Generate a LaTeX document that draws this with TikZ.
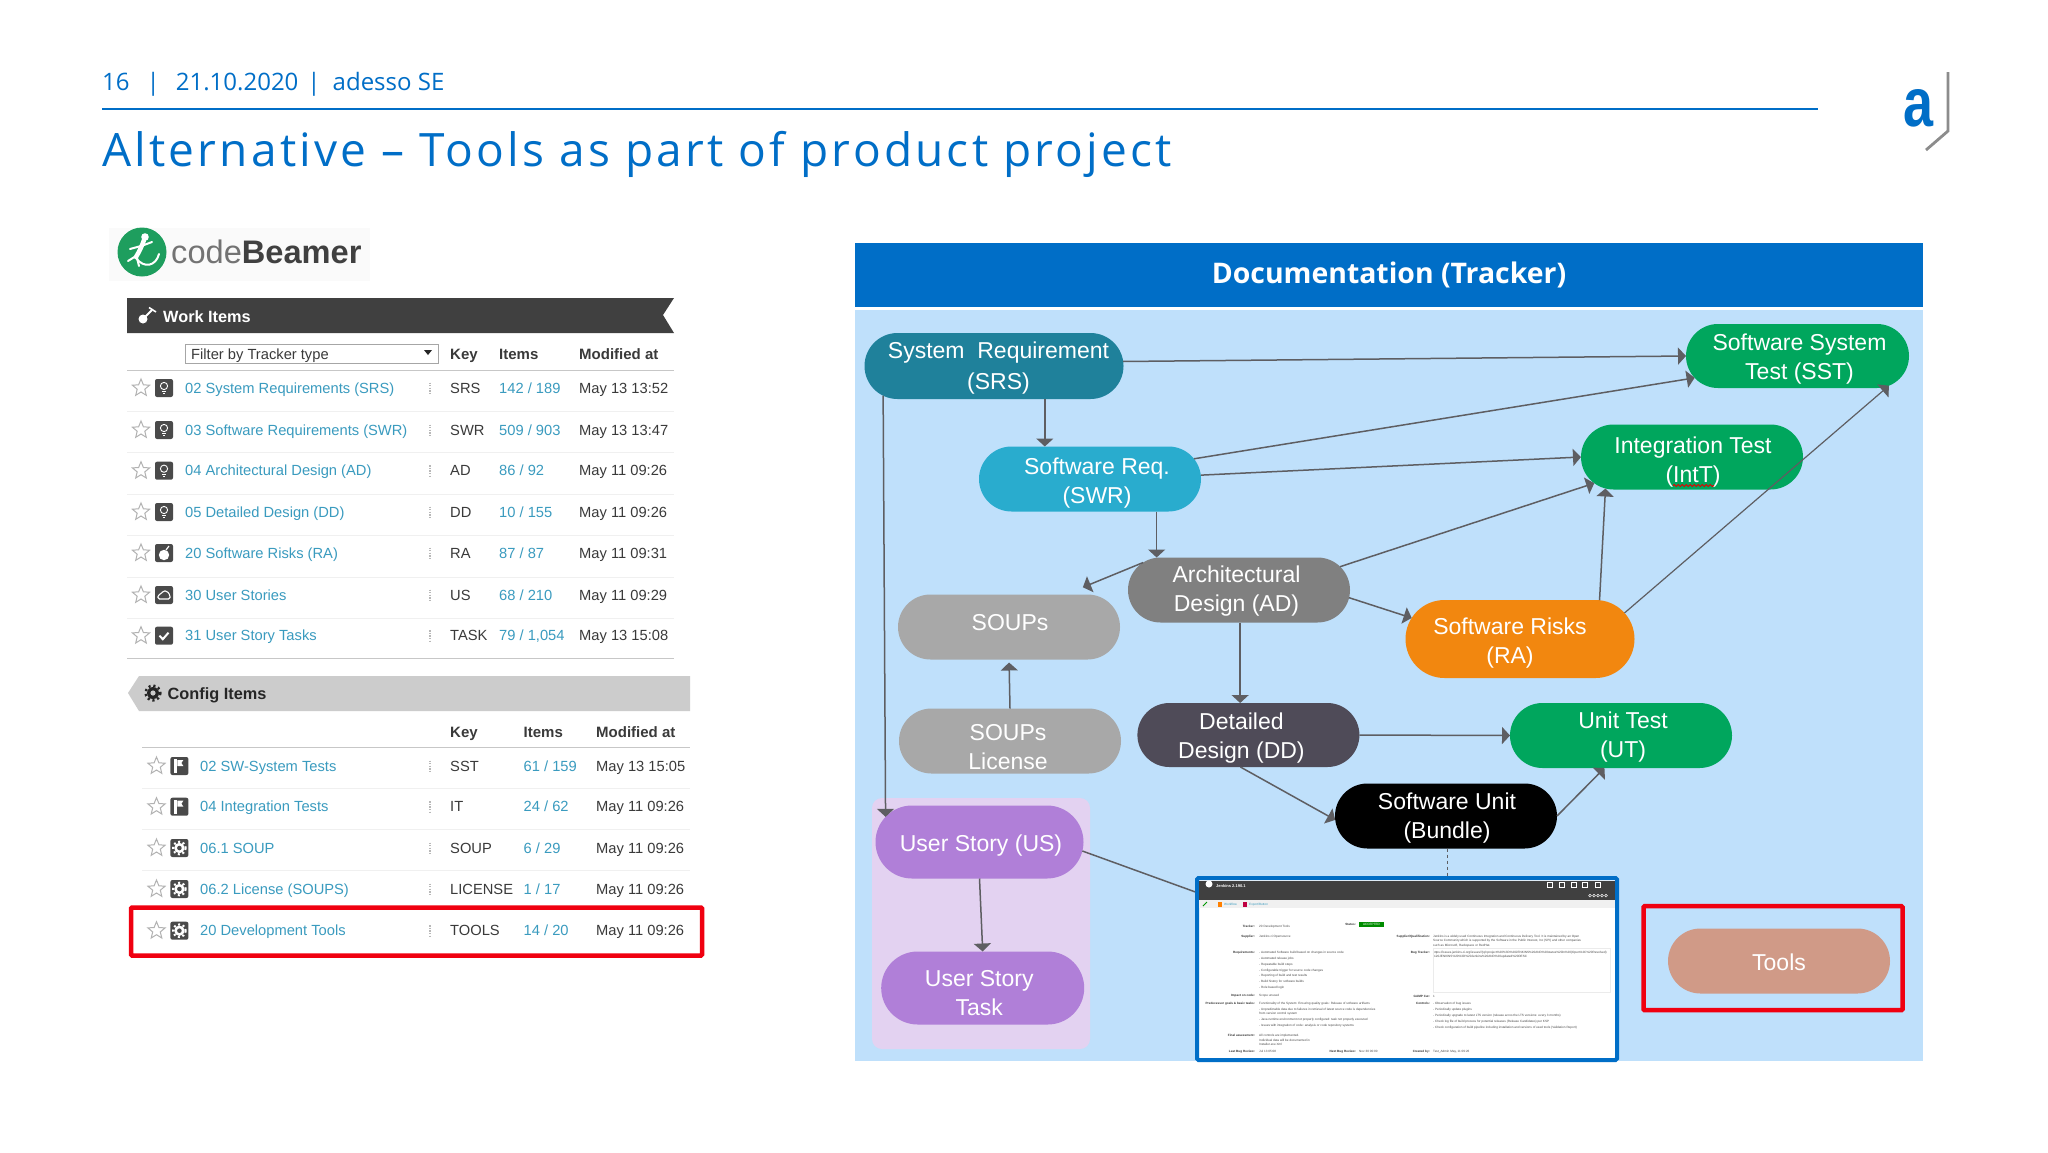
\documentclass[tikz,border=0pt]{standalone}
\usepackage{fontspec}
\usetikzlibrary{arrows.meta,shapes.misc,decorations.pathmorphing,calc}
\setmainfont{Liberation Sans}
\newfontfamily\opens{Open Sans}
\newfontfamily\titlef[LetterSpace=7]{Open Sans}
\definecolor{adblue}{HTML}{006EC7}
\definecolor{panelblue}{HTML}{BFE0FB}
\definecolor{linkc}{HTML}{3A9BBF}
\definecolor{txtc}{HTML}{3A3A3A}
\definecolor{icod}{HTML}{4A4A4A}
\definecolor{conc}{HTML}{5E5E62}
\definecolor{grn}{HTML}{00A65D}
\definecolor{purp}{HTML}{B07FD8}
\definecolor{redb}{HTML}{F00010}
\definecolor{srsc}{HTML}{1F819B}
\definecolor{swrc}{HTML}{29ACCE}
\definecolor{ddc}{HTML}{4F4B58}
\definecolor{rac}{HTML}{F2870F}
\definecolor{toolc}{HTML}{D09A87}
\definecolor{cbgreen}{HTML}{1E9E5E}
\newcommand\pillf{\fontsize{23}{29}\selectfont}
\newcommand\tabf{\fontsize{14.7}{18}\selectfont}
\newcommand\tabbf{\fontsize{15}{18}\selectfont\bfseries}
\newcommand\shotf{\fontsize{3.1}{3.6}\selectfont}
% text inside a pill: x offset, offset of the last baseline below the centre, lines
\newcommand\tx[3]{\makebox[0pt][c]{\kern\dimexpr 2\dimexpr #1pt\relax\relax\smash{\raisebox{-#2pt}{\begin{tabular}[b]{@{}c@{}}#3\end{tabular}}}}}
\tikzset{
  pill/.style={rounded rectangle,inner sep=0pt,outer sep=0pt,text=white,font=\pillf,minimum width=222pt,minimum height=65pt},
  conn/.style={draw=conc,line width=1.5pt,-{Triangle[length=8pt,width=17pt,fill=conc]}},
  plainconn/.style={draw=conc,line width=1.5pt},
  redframe/.style={draw=redb,line width=4.5pt,rounded corners=1pt,inner sep=0pt,outer sep=0pt},
  cell/.style={anchor=base west,inner sep=0pt,font=\tabf},
  headc/.style={anchor=base west,inner sep=0pt,font=\tabbf,text=txtc},
  sl/.style={anchor=base west,inner sep=0pt,font=\shotf,text=black!72},
  sh/.style={anchor=base east,inner sep=0pt,font=\shotf\bfseries,text=black!80},
}
\newcommand\istar[2]{\draw[black!30,line width=1pt,line join=miter,shift={(#1,#2)}] (0,-9)--(2.4,-3.2)--(8.6,-2.8)--(3.8,1.2)--(5.3,7.3)--(0,4)--(-5.3,7.3)--(-3.8,1.2)--(-8.6,-2.8)--(-2.4,-3.2)--cycle;}
\newcommand\ibulb{\draw[white,line width=.9pt] (0,-2) circle (3.6); \draw[white,line width=1pt] (-1.6,3.5)--(1.6,3.5) (-1.2,5.5)--(1.2,5.5);}
\newcommand\ibomb{\fill[white] (0,2) circle (5.2); \draw[white,line width=1.2pt] (2,-3) -- (5,-7);}
\newcommand\icloud{\draw[white,line width=1.1pt,rounded corners=1.5pt] (-6,4)--(-6,0)--(-3,-1)--(-1,-4)--(3,-4)--(6,0)--(6,4)--cycle;}
\newcommand\icheck{\draw[white,line width=2pt] (-4.5,0)--(-1.2,3.5)--(4.5,-3);}
\newcommand\iflag{\fill[white] (-5,-7) rectangle (-2.5,7); \fill[white] (-2,-6)--(4,-6)--(2,-3)--(4,0)--(-2,0)--cycle;}
\newcommand\igear{\fill[white] (0,0) circle (5.2); \draw[white,line width=2pt,dash pattern=on 2pt off 2.7pt] (0,0) circle (6.3); \fill[icod] (0,0) circle (2.3);}
\newcommand\ico[3]{\begin{scope}[shift={(#1,#2)}]\fill[icod,rounded corners=2pt] (-9,-9) rectangle (9,9); #3\end{scope}}
\def\cstar{141}\def\cico{164}\def\clink{185}\def\citems{499}\def\cdate{579}
\newcommand\trow[7]{%
  \istar{\cstar}{#2}
  \ico{\cico}{#2}{#3}
  \node[cell,text=linkc] (#1-link) at (\clink,{#2+5.2}) {#4};
  \draw[black!28,line width=1.2pt,dash pattern=on 1.3pt off 1.3pt] (430,{#2-5.5}) -- (430,{#2+5});
  \node[cell,text=txtc] (#1-key) at (450,{#2+5.2}) {#5};
  \node[cell,text=linkc] (#1-items) at (\citems,{#2+5.2}) {#6};
  \node[cell,text=txtc] (#1-date) at (\cdate,{#2+5.2}) {#7};
}
\begin{document}
\begin{tikzpicture}[x=1pt,y=-1pt]
\useasboundingbox (0,0) rectangle (2048,1152);
\fill[white] (0,0) rectangle (2048,1152);
% ---------- slide head
\node[anchor=base west,inner sep=0pt,text=adblue,font=\opens\fontsize{24}{28}\selectfont] (head) at (102,90) {16\hspace{17pt}|\hspace{16pt}21.10.2020\hspace{9pt}|\hspace{12pt}adesso SE};
\draw[adblue,line width=2.4pt] (102,109) -- (1818,109);
\node[anchor=base west,inner sep=0pt,text=adblue,font=\titlef\fontsize{46}{50}\selectfont] (title) at (102,166) {Alternative – Tools as part of product project};
\node[inner sep=0pt,text=adblue,font=\bfseries] (logo) at (1918.5,108) {\resizebox{30pt}{37pt}{a}};
\draw[black!45,line width=2.8pt] (1948,72) -- (1948,131) -- (1926,150);
% ---------- codeBeamer logo
\fill[black!2] (109,228) rectangle (370,281);
\fill[cbgreen] (142,252) circle (24.5);
\begin{scope}[shift={(142,252)},white,line cap=round,line join=round]
\draw[line width=4.5pt] (2,-12) .. controls (0,-6) and (-3,0) .. (-6,5);
\draw[line width=2pt] (-1,-6)--(-12,-3) (2,-7)--(10,-10) (-6,4)--(-14,9) (-5,6)--(-3,14);
\draw[line width=2pt] (-6,6) .. controls (2,17) and (14,14) .. (17,2);
\fill (3,-15) circle (3.8);
\end{scope}
\node[anchor=base west,inner sep=0pt,font=\fontsize{32.6}{36}\selectfont] (cb) at (171,263) {\textcolor{black!55}{code}\textcolor{black!75}{\bfseries Beamer}};
% ---------- work items table
\fill[black!75] (127,298) -- (674,298) -- (663,315) -- (674,333) -- (127,333) -- cycle;
\fill[white] (143,319) circle (4.5);
\draw[white,line width=2pt] (143,319)--(152,310);
\draw[white,line width=1.6pt] (149,307.5)--(156,312);
\node[anchor=base west,inner sep=0pt,text=white,font=\fontsize{16.3}{20}\selectfont\bfseries] (wi) at (163,322) {Work Items};
\node[draw=black!35,line width=1pt,fill=white,minimum width=253pt,minimum height=19pt,inner sep=0pt,outer sep=0pt] (filterbox) at (311.5,353.6) {};
\node[cell,text=txtc] (filter) at (191,359) {Filter by Tracker type};
\fill[black!85] (424,350) -- (432,350) -- (428,355) -- cycle;
\node[headc] (wk) at (450,359.5) {Key};
\node[headc] (wit) at (\citems,359.5) {Items};
\node[headc] (wm) at (\cdate,359.5) {Modified at};
\draw[black!22,line width=1pt] (127,370) -- (674,370);
\foreach \yy in {411,452.7,494,535,577,618} \draw[black!6,line width=1pt] (127,\yy) -- (674,\yy);
\draw[black!22,line width=1pt] (127,658) -- (674,658);
\trow{a1}{388}{\ibulb}{02 System Requirements (SRS)}{SRS}{142 / 189}{May 13 13:52}
\trow{a2}{430}{\ibulb}{03 Software Requirements (SWR)}{SWR}{509 / 903}{May 13 13:47}
\trow{a3}{470.7}{\ibulb}{04 Architectural Design (AD)}{AD}{86 / 92}{May 11 09:26}
\trow{a4}{512}{\ibulb}{05 Detailed Design (DD)}{DD}{10 / 155}{May 11 09:26}
\trow{a5}{553}{\ibomb}{20 Software Risks (RA)}{RA}{87 / 87}{May 11 09:31}
\trow{a6}{595}{\icloud}{30 User Stories}{US}{68 / 210}{May 11 09:29}
\trow{a7}{635.7}{\icheck}{31 User Story Tasks}{TASK}{79 / 1,054}{May 13 15:08}
% ---------- config items table
\fill[black!20] (139,676) -- (690,676) -- (690,711) -- (139,711) -- (128,693) -- cycle;
\fill[black!85] (153,693) circle (6);
\draw[black!85,line width=2.4pt,dash pattern=on 2.2pt off 2.8pt] (153,693) circle (7.4);
\fill[black!20] (153,693) circle (2.6);
\node[anchor=base west,inner sep=0pt,text=black!85,font=\fontsize{16.3}{20}\selectfont\bfseries] (ci) at (167.5,699) {Config Items};
\def\cstar{156.5}\def\cico{179.4}\def\clink{200}\def\citems{523.5}\def\cdate{596}
\node[headc] (ck) at (450,737.5) {Key};
\node[headc] (cit) at (\citems,737.5) {Items};
\node[headc] (cm) at (\cdate,737.5) {Modified at};
\draw[black!22,line width=1pt] (142,747) -- (690,747);
\foreach \yy in {788,829,870} \draw[black!6,line width=1pt] (142,\yy) -- (690,\yy);
\trow{b1}{766}{\iflag}{02 SW-System Tests}{SST}{61 / 159}{May 13 15:05}
\trow{b2}{806.7}{\iflag}{04 Integration Tests}{IT}{24 / 62}{May 11 09:26}
\trow{b3}{848}{\igear}{06.1 SOUP}{SOUP}{6 / 29}{May 11 09:26}
\trow{b4}{889}{\igear}{06.2 License (SOUPS)}{LICENSE}{1 / 17}{May 11 09:26}
\trow{b5}{930.7}{\igear}{20 Development Tools}{TOOLS}{14 / 20}{May 11 09:26}
\node[redframe,minimum width=571pt,minimum height=48pt] (redrow) at (416.5,931.5) {};
% ---------- right panel
\node[fill=adblue,minimum width=1068pt,minimum height=64pt,inner sep=0pt,outer sep=0pt,text=white,font=\opens\fontsize{28.4}{32}\selectfont\bfseries] (dochead) at (1389,275) {\raisebox{3pt}{Documentation (Tracker)}};
\fill[panelblue] (855,310) rectangle (1923,1061);
\fill[purp!35!white,rounded corners=10pt] (872,798) rectangle (1090,1049);
\node[pill,fill=srsc,minimum width=259pt,minimum height=66pt] (srs) at (994,366) {\tx{4.5}{23}{System\ \ Requirement\\[2pt](SRS)}};
\node[pill,fill=swrc] (swr) at (1090,479) {\tx{7}{24}{Software Req.\\(SWR)}};
\node[pill,fill=black!50] (ad) at (1239,590) {\tx{-2.5}{21}{Architectural\\Design (AD)}};
\node[pill,fill=black!34] (soups) at (1009,627) {\tx{1}{3}{SOUPs}};
\node[pill,fill=black!34] (lic) at (1010,741) {\tx{-2}{28}{SOUPs\\License}};
\node[pill,fill=ddc,minimum height=64pt] (dd) at (1248.4,735) {\tx{-7}{23}{Detailed\\Design (DD)}};
\node[pill,fill=black] (bundle) at (1446,816) {\tx{1}{22}{Software Unit\\(Bundle)}};
\node[pill,fill=purp,minimum width=208pt,minimum height=73pt] (us) at (979.5,842) {\tx{1.5}{9}{User Story (US)}};
\node[pill,fill=purp,minimum width=203pt,minimum height=73pt] (ust) at (982.7,988) {\tx{-3.5}{27}{User Story\\Task}};
\node[pill,fill=grn,minimum height=64pt,minimum width=223pt] (sst) at (1797.5,356) {\tx{2}{23}{Software System\\Test (SST)}};
\node[pill,fill=grn] (intt) at (1692,457) {\tx{1}{25}{Integration Test\\(IntT)}};
\draw[red!90!black,line width=1pt,decorate,decoration={snake,amplitude=1pt,segment length=4pt}] (1673,485.5) -- (1714,485.5);
\node[pill,fill=rac,minimum width=229pt,minimum height=78pt] (ra) at (1520,639) {\tx{-10}{24}{Software Risks\\(RA)}};
\node[pill,fill=grn] (ut) at (1621,735.5) {\tx{2}{21.5}{Unit Test\\(UT)}};
\node[pill,fill=toolc] (tools) at (1779,961) {\tx{0}{9}{Tools}};
\node[redframe,minimum width=259pt,minimum height=104pt] (redtools) at (1773,958.2) {};
% ---------- embedded screenshot
\node[draw=adblue,line width=4pt,fill=white,rounded corners=1.5pt,minimum width=420pt,minimum height=182pt,inner sep=0pt,outer sep=2pt] (shot) at (1407,969) {};
\fill[black!75] (1199,881) rectangle (1615,900);
\fill[black!6] (1199,900) rectangle (1615,908);
\fill[white] (1209,884) circle (3.5);
\node[anchor=base west,inner sep=0pt,text=white,font=\fontsize{4}{5}\selectfont\bfseries] (jk) at (1216,887) {Jenkins 2.190.1};
\foreach \xx in {1550,1562,1574,1585,1598} \draw[white,line width=.6pt] (\xx-2.5,882) rectangle (\xx+2.5,887);
\foreach \xx in {1590,1594,1598,1602,1606} \draw[white,line width=.5pt] (\xx,895.7) circle (1.4);
\draw[green!60!black,line width=1pt] (1203,906) -- (1207,902);
\fill[orange] (1218,902) rectangle (1222,906.5);
\fill[purple] (1243,902) rectangle (1247,906.5);
\node[sl,text=linkc] (b1) at (1224,905.2) {Workflow};
\node[sl,text=linkc] (b2) at (1249,905.2) {Export/Button};
\fill[green!55!black] (1359,922) rectangle (1384,927);
\node[anchor=base,inner sep=0pt,text=white,font=\shotf] (st2) at (1371.5,925.6) {ACCEPTED};
\node[sh] (st) at (1356,925.5) {Status:};
\foreach \i/\yy/\lab/\val in {
 1/927.7/{Tracker:}/{20 Development Tools},
 2/937.3/{Supplier:}/{Jenkins ci Opensource},
 3/953/{Requirements:}/{- Automated Software build based on changes in source code},
 4/996.7/{Impact on code:}/{Scope unused},
 5/1004.3/{Predecessor goals \& basic tasks:}/{Functionality of the System: Ensuring quality goals: Release of software artifacts},
 6/1036.3/{Final assessment:}/{All controls are implemented.},
 7/1052.7/{Last Bug Review:}/{Jul 13 05:08}}
 {\node[sh] (sa\i) at (1255,\yy) {\lab}; \node[sl] (sb\i) at (1259,\yy) {\val};}
\foreach \i/\yy/\val in {
 1/959/{- Automated release jobs},
 2/965/{- Repeatable build steps},
 3/971/{- Configurable trigger for source code changes},
 4/976.7/{- Reporting of build and test results},
 5/982.7/{- Build history for software builds},
 6/988.7/{- Role based login},
 7/1010.3/{- Unpredictable data due to failures in retrieval of latest source code is dependencies},
 8/1014.3/{from version control system},
 9/1020.3/{- Java runtime environment not properly configured: task not properly executed},
 10/1026.3/{- Issues with integration of code: analysis or code repository systems},
 11/1041/{Individual data will be documented in},
 12/1045.3/{Installer.exe Xml}}
 {\node[sl] (sc\i) at (1259,\yy) {\val};}
\node[sh] (nb) at (1356,1052.7) {Next Bug Review:};
\node[sl] (nb2) at (1359,1052.7) {Nov 30 00:00};
\foreach \i/\yy/\lab/\val in {
 1/937.3/{Supplier/Qualification:}/{Jenkins is a widely used Continuous Integration and Continuous Delivery Tool. It is maintained by an Open},
 2/953/{Bug Tracker:}/{https://issues.jenkins-ci.org/issues/?jql=project\%20\%3D\%20JENKINS\%20AND\%20status\%20in\%20(Open\%2C\%20Resolved)},
 3/997.3/{GAMP Cat:}/{1},
 4/1004.3/{Controls:}/{- Observation of bug issues},
 5/1052.7/{Created by:}/{Test\_Admin May, 11 09:26}}
 {\node[sh] (sd\i) at (1430,\yy) {\lab}; \node[sl] (se\i) at (1433,\yy) {\val};}
\foreach \i/\yy/\val in {
 1/941.7/{Source Community which is supported by the Software in the Public Interest, Inc (SPI) and other companies},
 2/946/{such as Microsoft, Rackspace or RedHat.},
 3/957/{\%20JENKINS\%20\%3D\%20Jenkins\%20AND\%20updated\%20DESC},
 4/1010.3/{- Periodically update plugins},
 5/1016.3/{- Periodically upgrade to latest LTS version (release acros the LTS versions: every 3 months)},
 6/1022.3/{- Check log file of build process for potential releases (Release Candidates) per KSP},
 7/1028/{- Check configuration of build pipeline including installation and versions of used tools (Validation Report)}}
 {\node[sl] (sf\i) at (1433,\yy) {\val};}
\draw[black!8,line width=.5pt] (1433,948) rectangle (1610,992);
% ---------- connectors
\draw[conn] (srs.2) -- (sst.west);
\draw[conn] (srs.-33) -- (srs.-33 |- swr.north);
\draw[conn] (swr.11.6) -- (sst.192);
\draw[conn] (swr.2) -- (intt.west);
\draw[conn] (swr.-26.9) -- (swr.-26.9 |- ad.north);
\draw[conn,shorten >=19pt] (ad.164) -- (soups.30);
\draw[conn] (ad.13.4) -- (intt.195);
\draw[conn] (ad.-4.6) -- (ra.169.1);
\draw[conn] (ad.-88) -- (ad.-88 |- dd.north);
\draw[conn,shorten >=3pt] (lic.north) -- (soups.south);
\draw[conn] (srs.195) -- (us.165);
\draw[conn] (ra.26) -- (intt.200.8);
\draw[conn,line width=1.2pt] (ra.14) -- (sst.-18.6);
\draw[conn] (dd.east) -- (ut.west);
\draw[conn] (dd.-104) -- (bundle.182);
\draw[conn] (bundle.east) -- (ut.243);
\draw[plainconn] (us.-5.5) -- (shot.160);
\draw[plainconn,dashed] (bundle.-87) -- (bundle.-87 |- shot.north);
\draw[conn] (us.south) -- (ust.north);
\end{tikzpicture}
\end{document}
